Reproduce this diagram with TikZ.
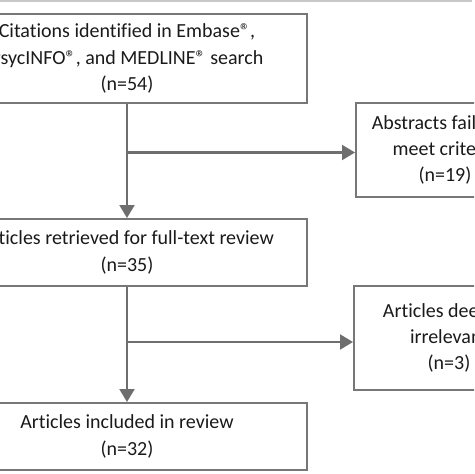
\documentclass[tikz,border=0pt]{standalone}
\usepackage{fontspec}
\setmainfont[Ligatures=NoCommon]{Carlito}
\usetikzlibrary{arrows.meta,calc}
\definecolor{linegray}{HTML}{6E6E6E}
\definecolor{boxgray}{HTML}{777777}
\definecolor{txt}{HTML}{1A1A1A}
\definecolor{bandgray}{HTML}{C8C8C8}
\tikzset{
  box/.style={draw=boxgray, line width=1.5pt, rectangle, inner sep=0pt, align=center,
    text=txt, font=\fontsize{15pt}{19.8pt}\selectfont},
  arr/.style={draw=linegray, line width=1.6pt, -{Triangle[length=9.75pt,width=11.25pt]}},
  ln/.style={draw=linegray, line width=1.6pt}
}
\begin{document}
\begin{tikzpicture}[x=0.75pt,y=-0.75pt]
\useasboundingbox (0,0) rectangle (474,474);
\clip (0,0) rectangle (474,474);
\fill[bandgray] (0,0) rectangle (472,2.5);
\node[box, minimum width=270pt, minimum height=66.75pt] (b1) at (127,58.5)
  {Citations identified in Embase®,\\PsycINFO®, and MEDLINE® search\\(n=54)};
\node[box, minimum width=270pt, minimum height=50.25pt] (b2) at (127,252.5)
  {Articles retrieved for full-text review\\(n=35)};
\node[box, minimum width=270pt, minimum height=50.25pt] (b3) at (127,436.5)
  {Articles included in review\\(n=32)};
\node[box, minimum width=133.5pt, minimum height=70.5pt] (abs) at (445,150)
  {Abstracts failed to\\meet criteria\\(n=19)};
\node[box, minimum width=142.5pt, minimum height=78pt] (irr) at (449,338)
  {Articles deemed\\irrelevant\\(n=3)};
\coordinate (j1) at (127,152.5);
\coordinate (j2) at (127,342);
\draw[arr] (b1.south) -- (b2.north);
\draw[arr] (b2.south) -- (b3.north);
\draw[arr] (j1) -- (j1 -| abs.west);
\draw[arr] (j2) -- (j2 -| irr.west);
\end{tikzpicture}
\end{document}
